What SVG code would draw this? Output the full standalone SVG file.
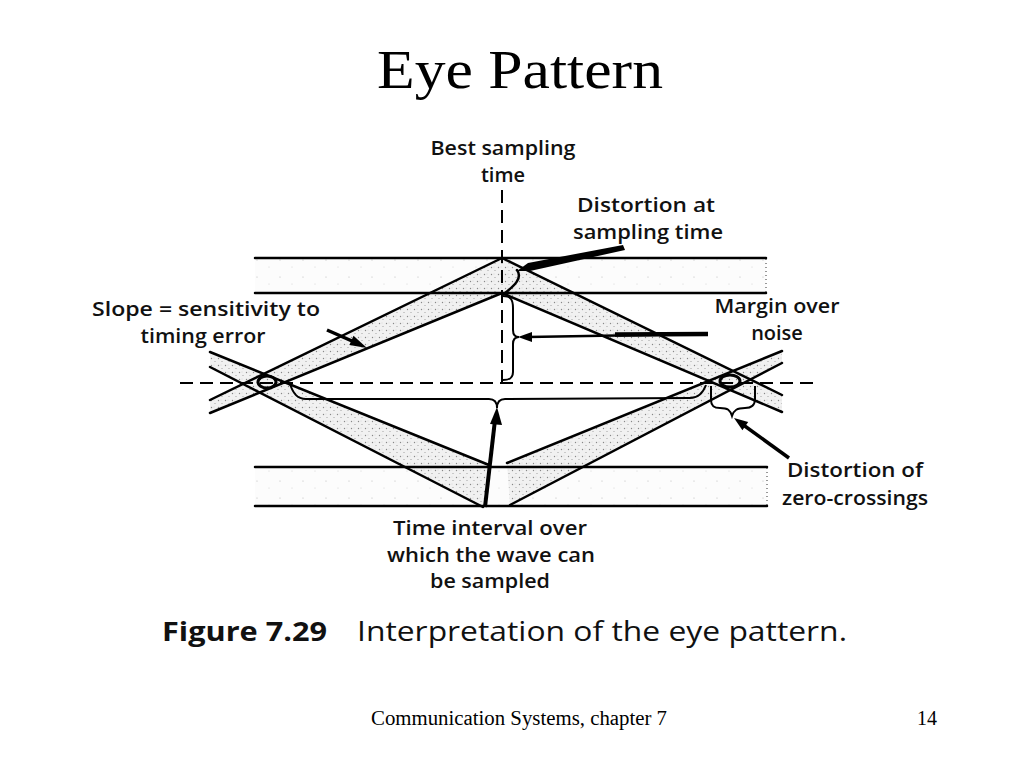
<svg xmlns="http://www.w3.org/2000/svg" width="1024" height="768" viewBox="0 0 1024 768">
<defs>
<pattern id="st" width="7" height="7" patternUnits="userSpaceOnUse">
<rect width="7" height="7" fill="#f1f1f1"/>
<circle cx="1.5" cy="1.5" r="0.7" fill="#888"/>
<circle cx="5" cy="4.5" r="0.6" fill="#999"/>
<circle cx="4" cy="1" r="0.4" fill="#bbb"/>
</pattern>
<pattern id="sp" width="23" height="17" patternUnits="userSpaceOnUse">
<rect width="23" height="17" fill="#fcfcfc"/>
<circle cx="4" cy="5" r="0.6" fill="#bbb"/>
<circle cx="16" cy="12" r="0.5" fill="#ccc"/>
</pattern>
<style>
.ln{stroke:#000;stroke-width:2.5;fill:none;stroke-linecap:round}
.th{stroke:#000;stroke-width:2;fill:none}
.dash{stroke:#000;stroke-width:2;stroke-dasharray:13 7;fill:none}
.dot{stroke:#777;stroke-width:1.5;stroke-dasharray:1 3;fill:none}
.lab{font-family:"Open Sans","Liberation Sans",sans-serif;font-size:20px;font-weight:600;fill:#111;text-anchor:middle}
.ser{font-family:"Liberation Serif","Times New Roman",serif;fill:#000}
.cap{font-family:"Open Sans","Liberation Sans",sans-serif;font-size:27px;fill:#111}
</style>
</defs>
<rect width="1024" height="768" fill="#fff"/>

<text class="ser" x="520" y="88" font-size="55" text-anchor="middle" textLength="286" lengthAdjust="spacingAndGlyphs">Eye Pattern</text>

<g id="noise-bands">
<rect x="255" y="258" width="511" height="35" fill="url(#sp)"/>
<rect x="255" y="467" width="512" height="39" fill="url(#sp)"/>
<line class="dot" x1="766" y1="259" x2="766" y2="292"/>
<line class="dot" x1="767" y1="468" x2="767" y2="505"/>
</g>

<g id="eye-bands">
<polygon points="210,400 502,258 502,293 210,413" fill="url(#st)"/>
<polygon points="210,352 489,465 483,507 210,367" fill="url(#st)"/>
<polygon points="502,258 782,395 782,412 502,293" fill="url(#st)"/>
<polygon points="507,463 782,351 782,363 510,505" fill="url(#st)"/>
<path d="M502,258 L517,270 C523,278 514,286 505,293 Z" fill="url(#st)"/>
</g>

<g id="eye-lines">
<line class="ln" x1="255" y1="258" x2="766" y2="258"/>
<line class="ln" x1="255" y1="293" x2="766" y2="293"/>
<line class="ln" x1="255" y1="467" x2="767" y2="467"/>
<line class="ln" x1="255" y1="506" x2="767" y2="506"/>
<line class="ln" x1="210" y1="400" x2="502" y2="258"/>
<line class="ln" x1="210" y1="413" x2="502" y2="293"/>
<line class="ln" x1="210" y1="352" x2="489" y2="465"/>
<line class="ln" x1="210" y1="367" x2="483" y2="507"/>
<line class="ln" x1="502" y1="258" x2="782" y2="395"/>
<line class="ln" x1="502" y1="293" x2="782" y2="412"/>
<line class="ln" x1="507" y1="463" x2="782" y2="351"/>
<line class="ln" x1="510" y1="505" x2="782" y2="363"/>
<path class="ln" d="M517,270 C523,278 514,286 505,293"/>
<ellipse cx="267" cy="382" rx="9" ry="6" fill="url(#st)" stroke="#000" stroke-width="3"/>
<ellipse cx="730" cy="381" rx="10" ry="6" fill="url(#st)" stroke="#000" stroke-width="3"/>
<line class="dash" x1="180" y1="383" x2="818" y2="383"/>
<line class="dash" x1="502" y1="190" x2="502" y2="383"/>
</g>

<g id="connectors">
<path class="th" d="M503,296 C511,296 513,300 513,308 L513,330 C513,335 515,337 519,337 C515,337 513,339 513,344 L513,372 C513,378 510,380 503,380"/>
<line x1="705" y1="334" x2="528" y2="337" stroke="#000" stroke-width="2.5"/>
<line x1="615" y1="334.5" x2="708" y2="334" stroke="#000" stroke-width="4.5"/>
<polygon points="518,337 532,332 532,342" fill="#000"/>

<path class="th" d="M290,384 C293,393 297,399 306,399 L489,399 C494,399 497,402 497,408 C497,402 500,399 505,399 L690,398 C698,398 703,393 706,385"/>
<line x1="485" y1="507" x2="495" y2="420" stroke="#000" stroke-width="4"/>
<polygon points="497,407 490,424 502,425" fill="#000"/>

<path class="th" d="M711,386 L711,400 C711,406 714,408 720,408 C728,408 730,410 732,416 C734,410 737,408 745,408 C752,408 755,405 755,399 L755,386"/>
<line x1="789" y1="458" x2="742" y2="424" stroke="#000" stroke-width="3.5"/>
<polygon points="734,418 742.4,430.3 748.2,422.1" fill="#000"/>

<polygon points="623,245 625,250 530,271 517,271 528,263" fill="#000"/>

<line x1="327" y1="330" x2="352" y2="341" stroke="#000" stroke-width="3.5"/>
<polygon points="367,348 349.4,345 353.5,335.8" fill="#000"/>
</g>

<g id="label-best">
<text class="lab" x="503" y="155" textLength="145" lengthAdjust="spacingAndGlyphs">Best sampling</text>
<text class="lab" x="503" y="182">time</text>
</g>
<g id="label-distortion-sampling">
<text class="lab" x="646" y="212" textLength="138" lengthAdjust="spacingAndGlyphs">Distortion at</text>
<text class="lab" x="648" y="239" textLength="150" lengthAdjust="spacingAndGlyphs">sampling time</text>
</g>
<g id="label-slope">
<text class="lab" x="206" y="316" textLength="228" lengthAdjust="spacingAndGlyphs">Slope = sensitivity to</text>
<text class="lab" x="203" y="343" textLength="125" lengthAdjust="spacingAndGlyphs">timing error</text>
</g>
<g id="label-margin">
<text class="lab" x="777" y="313" textLength="125" lengthAdjust="spacingAndGlyphs">Margin over</text>
<text class="lab" x="777" y="340">noise</text>
</g>
<g id="label-zero">
<text class="lab" x="855" y="477" textLength="136" lengthAdjust="spacingAndGlyphs">Distortion of</text>
<text class="lab" x="855" y="505" textLength="146" lengthAdjust="spacingAndGlyphs">zero-crossings</text>
</g>
<g id="label-interval">
<text class="lab" x="490" y="535" textLength="194" lengthAdjust="spacingAndGlyphs">Time interval over</text>
<text class="lab" x="491" y="562" textLength="208" lengthAdjust="spacingAndGlyphs">which the wave can</text>
<text class="lab" x="490" y="588" textLength="120" lengthAdjust="spacingAndGlyphs">be sampled</text>
</g>

<g id="caption">
<text class="cap" x="162" y="641" font-weight="700" textLength="165" lengthAdjust="spacingAndGlyphs">Figure 7.29</text>
<text class="cap" x="357" y="641" font-weight="500" textLength="490" lengthAdjust="spacingAndGlyphs">Interpretation of the eye pattern.</text>
</g>

<g id="footer">
<text class="ser" x="519" y="725" font-size="20" text-anchor="middle" textLength="296" lengthAdjust="spacingAndGlyphs">Communication Systems, chapter 7</text>
<text class="ser" x="927" y="725" font-size="20" text-anchor="middle">14</text>
</g>
</svg>
